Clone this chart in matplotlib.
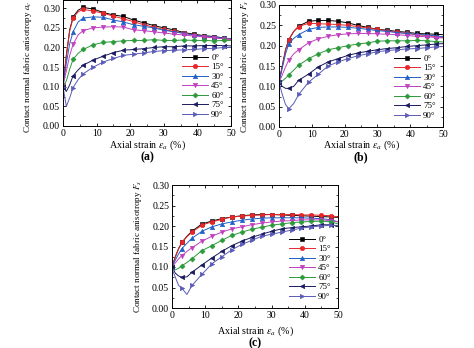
import matplotlib
matplotlib.use("Agg")
import matplotlib.pyplot as plt
from matplotlib.ticker import MultipleLocator, FormatStrFormatter

plt.rcParams['font.family'] = ['Liberation Serif', 'DejaVu Serif']
plt.rcParams['mathtext.fontset'] = 'stix'

# common strain values (%)
strain = [0, 1, 2, 3, 4.5, 6, 9, 12, 15, 18, 21, 24, 27, 30, 33, 36, 39, 42, 45, 48, 50]
angles = ['0°', '15°', '30°', '45°', '60°', '75°', '90°']

# panel (a)
a_0  = [0.100, 0.180, 0.245, 0.278, 0.295, 0.302, 0.298, 0.289, 0.283, 0.279, 0.270, 0.263, 0.256, 0.250, 0.245, 0.238, 0.234, 0.230, 0.228, 0.224, 0.222]
a_15 = [0.105, 0.180, 0.243, 0.275, 0.291, 0.297, 0.293, 0.287, 0.280, 0.273, 0.266, 0.258, 0.252, 0.246, 0.241, 0.236, 0.232, 0.228, 0.225, 0.222, 0.221]
a_30 = [0.100, 0.160, 0.210, 0.240, 0.265, 0.275, 0.278, 0.277, 0.270, 0.265, 0.258, 0.254, 0.250, 0.244, 0.240, 0.236, 0.232, 0.228, 0.226, 0.224, 0.222]
a_45 = [0.105, 0.140, 0.180, 0.208, 0.232, 0.243, 0.250, 0.252, 0.253, 0.252, 0.245, 0.243, 0.240, 0.237, 0.234, 0.232, 0.229, 0.227, 0.225, 0.222, 0.221]
a_60 = [0.100, 0.115, 0.145, 0.170, 0.185, 0.195, 0.207, 0.213, 0.215, 0.217, 0.218, 0.218, 0.220, 0.218, 0.218, 0.219, 0.218, 0.218, 0.217, 0.218, 0.218]
a_75 = [0.100, 0.088, 0.105, 0.128, 0.143, 0.155, 0.168, 0.178, 0.187, 0.193, 0.195, 0.197, 0.200, 0.202, 0.202, 0.204, 0.204, 0.205, 0.205, 0.205, 0.204]
a_90 = [0.100, 0.050, 0.072, 0.098, 0.118, 0.133, 0.150, 0.163, 0.172, 0.180, 0.183, 0.186, 0.190, 0.192, 0.193, 0.194, 0.195, 0.197, 0.198, 0.200, 0.200]

# panel (b)
b_0  = [0.110, 0.150, 0.190, 0.215, 0.235, 0.248, 0.260, 0.262, 0.262, 0.260, 0.256, 0.250, 0.245, 0.240, 0.238, 0.235, 0.233, 0.230, 0.229, 0.228, 0.227]
b_15 = [0.110, 0.150, 0.190, 0.215, 0.235, 0.247, 0.255, 0.254, 0.253, 0.252, 0.250, 0.247, 0.243, 0.240, 0.236, 0.233, 0.230, 0.227, 0.225, 0.222, 0.220]
b_30 = [0.110, 0.145, 0.180, 0.205, 0.218, 0.227, 0.240, 0.245, 0.246, 0.246, 0.245, 0.243, 0.240, 0.237, 0.235, 0.232, 0.230, 0.228, 0.226, 0.224, 0.222]
b_45 = [0.110, 0.128, 0.148, 0.165, 0.180, 0.190, 0.207, 0.217, 0.223, 0.227, 0.229, 0.230, 0.230, 0.229, 0.228, 0.227, 0.225, 0.223, 0.222, 0.220, 0.219]
b_60 = [0.110, 0.113, 0.120, 0.128, 0.140, 0.152, 0.168, 0.180, 0.190, 0.195, 0.200, 0.204, 0.207, 0.211, 0.212, 0.212, 0.212, 0.213, 0.212, 0.210, 0.209]
b_75 = [0.110, 0.100, 0.095, 0.095, 0.100, 0.115, 0.130, 0.148, 0.160, 0.168, 0.176, 0.182, 0.186, 0.190, 0.193, 0.195, 0.198, 0.200, 0.202, 0.204, 0.205]
b_90 = [0.110, 0.080, 0.055, 0.045, 0.058, 0.080, 0.110, 0.130, 0.150, 0.160, 0.168, 0.175, 0.180, 0.185, 0.188, 0.190, 0.192, 0.193, 0.195, 0.197, 0.198]

# panel (c)
c_0  = [0.100, 0.125, 0.145, 0.160, 0.175, 0.187, 0.205, 0.212, 0.218, 0.222, 0.225, 0.227, 0.228, 0.228, 0.227, 0.226, 0.225, 0.224, 0.223, 0.222, 0.221]
c_15 = [0.100, 0.125, 0.145, 0.160, 0.174, 0.185, 0.202, 0.210, 0.216, 0.222, 0.224, 0.226, 0.227, 0.228, 0.228, 0.228, 0.227, 0.227, 0.226, 0.225, 0.222]
c_30 = [0.100, 0.117, 0.132, 0.145, 0.158, 0.170, 0.187, 0.198, 0.205, 0.210, 0.214, 0.217, 0.219, 0.220, 0.220, 0.220, 0.220, 0.219, 0.218, 0.215, 0.210]
c_45 = [0.100, 0.110, 0.120, 0.128, 0.138, 0.147, 0.163, 0.175, 0.185, 0.193, 0.198, 0.203, 0.207, 0.210, 0.212, 0.213, 0.215, 0.215, 0.215, 0.213, 0.210]
c_60 = [0.100, 0.093, 0.097, 0.103, 0.111, 0.120, 0.140, 0.152, 0.165, 0.177, 0.185, 0.192, 0.197, 0.202, 0.205, 0.208, 0.210, 0.211, 0.212, 0.210, 0.205]
c_75 = [0.100, 0.085, 0.078, 0.075, 0.076, 0.087, 0.105, 0.122, 0.138, 0.152, 0.163, 0.172, 0.180, 0.187, 0.193, 0.196, 0.198, 0.200, 0.203, 0.203, 0.200]
c_90 = [0.095, 0.075, 0.055, 0.048, 0.033, 0.055, 0.082, 0.108, 0.125, 0.142, 0.155, 0.165, 0.175, 0.180, 0.185, 0.190, 0.195, 0.198, 0.200, 0.202, 0.200]

xticks = [0, 10, 20, 30, 40, 50]
yticks = [0.00, 0.05, 0.10, 0.15, 0.20, 0.25, 0.30]

colors = ['#000000', '#e8262a', '#2060c8', '#c040c0', '#2a9a3a', '#1a1a60', '#5a5ab8']
markers = ['s', 'o', '^', 'v', 'D', '<', '>']
msizes = [3.0, 3.2, 3.2, 3.2, 2.6, 3.2, 3.2]
mark_idx = [i for i, x in enumerate(strain) if x % 3 == 0]

W, H = 474, 348
fig = plt.figure(figsize=(W / 100, H / 100), dpi=100)

def make_ax(left, right, bottom, top, series, ylabel, ymax, tag, tag_y, xlabel_y, ylab_y=0.5):
    ax = fig.add_axes([left / W, (H - bottom) / H, (right - left) / W, (bottom - top) / H])
    for s, lab, c, m, ms in zip(series, angles, colors, markers, msizes):
        ax.plot(strain, s, color=c, lw=0.7, marker=m, ms=ms, markevery=mark_idx,
                markeredgewidth=0.4, label=lab)
    ax.set_xlim(0, 50)
    ax.set_ylim(0, ymax)
    ax.set_xticks(xticks)
    ax.set_yticks(yticks)
    ax.yaxis.set_major_formatter(FormatStrFormatter('%.2f'))
    ax.xaxis.set_minor_locator(MultipleLocator(5))
    ax.yaxis.set_minor_locator(MultipleLocator(0.025))
    ax.tick_params(which='both', direction='in', top=True, right=True, labelsize=7, pad=2)
    ax.tick_params(which='major', length=2.5, width=0.6)
    ax.tick_params(which='minor', length=1.5, width=0.5)
    for sp in ax.spines.values():
        sp.set_linewidth(0.7)
    ax.set_ylabel('Contact normal fabric anisotropy ' + ylabel, fontsize=6.6)
    ax.yaxis.set_label_coords(-0.17, ylab_y)
    cx = (left + right) / 2 / W
    fig.text(cx, 1 - xlabel_y / H, r'Axial strain $\varepsilon_a$ (%)', ha='center', va='center', fontsize=7.2)
    fig.text(cx, 1 - tag_y / H, tag, ha='center', va='center', fontsize=8.5, fontweight='bold')
    ax.legend(loc='lower right', frameon=False, fontsize=6.5, handlelength=2.8, labelspacing=0.13,
              handletextpad=0.4, borderaxespad=0.5, borderpad=0.3)
    return ax

make_ax(63, 231, 126, 0.2, [a_0, a_15, a_30, a_45, a_60, a_75, a_90], r'$a_c$', 0.3205, '(a)', 157, 145, 0.47)
make_ax(279, 443, 127, 5, [b_0, b_15, b_30, b_45, b_60, b_75, b_90], r'$F_s$', 0.30, '(b)', 157, 145)
make_ax(172, 338, 308, 185, [c_0, c_15, c_30, c_45, c_60, c_75, c_90], r'$F_s$', 0.30, '(c)', 343, 331)

fig.savefig('out.png', dpi=100)
